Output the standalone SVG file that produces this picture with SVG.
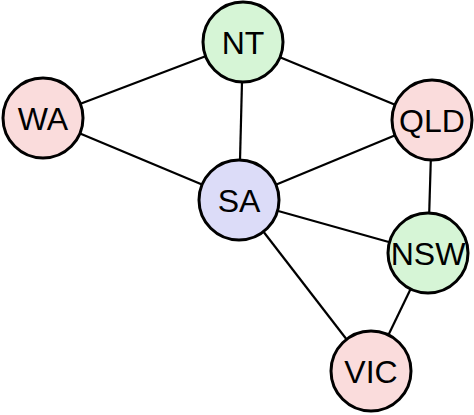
<svg xmlns="http://www.w3.org/2000/svg" width="474" height="415" viewBox="0 0 474 415">
<style>
.e{stroke:#000;stroke-width:2.2;fill:none}
.n{stroke:#000;stroke-width:3}
.g{fill:#d6f5d6}.p{fill:#fadcdc}.b{fill:#dcdcf8}
text{font-family:"Liberation Sans",Arial,sans-serif;font-size:32px;text-anchor:middle;fill:#000}
</style>
<rect width="474" height="415" fill="#fff"/>
<g id="edges">
<line class="e" x1="43" y1="118" x2="243" y2="42"/>
<line class="e" x1="43" y1="118" x2="239" y2="200"/>
<line class="e" x1="243" y1="42" x2="239" y2="200"/>
<line class="e" x1="243" y1="42" x2="432" y2="120"/>
<line class="e" x1="432" y1="120" x2="239" y2="200"/>
<line class="e" x1="432" y1="120" x2="428" y2="253"/>
<line class="e" x1="239" y1="200" x2="428" y2="253"/>
<line class="e" x1="239" y1="200" x2="371" y2="371"/>
<line class="e" x1="428" y1="253" x2="371" y2="371"/>
</g>
<g id="NT"><circle class="n g" cx="243" cy="42" r="40"/><text x="243" y="53.5">NT</text></g>
<g id="WA"><circle class="n p" cx="43" cy="118" r="40"/><text x="43" y="129.5">WA</text></g>
<g id="QLD"><circle class="n p" cx="432" cy="120" r="40"/><text x="432" y="131.5">QLD</text></g>
<g id="SA"><circle class="n b" cx="239" cy="200" r="40"/><text x="239" y="211.5">SA</text></g>
<g id="NSW"><circle class="n g" cx="428" cy="253" r="40"/><text x="428" y="264.5">NSW</text></g>
<g id="VIC"><circle class="n p" cx="371" cy="371" r="40"/><text x="371" y="382.5">VIC</text></g>
</svg>
